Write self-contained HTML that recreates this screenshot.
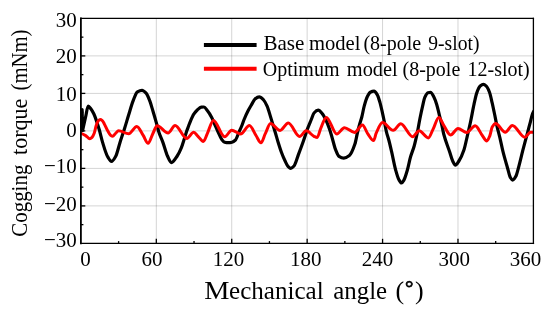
<!DOCTYPE html>
<html><head><meta charset="utf-8"><title>Cogging torque</title>
<style>html,body{margin:0;padding:0;background:#fff;width:550px;height:316px;overflow:hidden}svg{display:block}</style>
</head><body>
<svg width="550" height="316" viewBox="0 0 550 316" font-family="'Liberation Serif', 'Times New Roman', serif" fill="#000"><g stroke="#000" stroke-opacity="0.17" stroke-width="1"><line x1="156.32" y1="18.40" x2="156.32" y2="243.40"/><line x1="231.73" y1="18.40" x2="231.73" y2="243.40"/><line x1="307.15" y1="18.40" x2="307.15" y2="243.40"/><line x1="382.57" y1="18.40" x2="382.57" y2="243.40"/><line x1="457.98" y1="18.40" x2="457.98" y2="243.40"/><line x1="80.90" y1="205.90" x2="533.40" y2="205.90"/><line x1="80.90" y1="168.40" x2="533.40" y2="168.40"/><line x1="80.90" y1="130.90" x2="533.40" y2="130.90"/><line x1="80.90" y1="93.40" x2="533.40" y2="93.40"/><line x1="80.90" y1="55.90" x2="533.40" y2="55.90"/></g>
<defs><clipPath id="pc"><rect x="80.90" y="18.40" width="452.50" height="225.00"/></clipPath></defs>
<path d="M82.1,109.5 L82.6,130.5 C83.60,125.81 84.60,121.32 85.60,117.00 C86.47,113.26 87.33,106.20 88.20,106.20 C89.13,106.20 90.07,107.82 91.00,109.00 C91.97,110.22 92.93,111.97 93.90,114.00 C94.77,115.82 95.63,118.39 96.50,120.90 C97.50,123.80 98.50,127.01 99.50,130.50 C100.53,134.10 101.57,139.01 102.60,142.40 C104.37,148.19 106.13,154.37 107.90,157.20 C109.10,159.12 110.30,161.40 111.50,161.40 C112.90,161.40 114.30,158.77 115.70,156.30 C117.13,153.77 118.57,146.90 120.00,142.40 C121.47,137.80 122.93,133.65 124.40,129.00 C125.83,124.46 127.27,119.43 128.70,114.80 C130.17,110.06 131.63,104.61 133.10,100.90 C134.53,97.27 135.97,92.62 137.40,91.80 C138.93,90.93 140.47,90.30 142.00,90.30 C143.43,90.30 144.87,91.76 146.30,93.30 C147.47,94.55 148.63,97.85 149.80,100.90 C150.87,103.69 151.93,107.74 153.00,111.30 C154.10,114.97 155.20,118.69 156.30,122.60 C157.17,125.68 158.03,129.55 158.90,132.20 C160.23,136.27 161.57,138.76 162.90,142.40 C164.47,146.68 166.03,153.00 167.60,156.30 C168.87,158.96 170.13,162.60 171.40,162.60 C173.33,162.60 175.27,158.85 177.20,156.00 C178.60,153.94 180.00,151.01 181.40,147.60 C182.33,145.33 183.27,142.11 184.20,139.20 C185.07,136.50 185.93,133.32 186.80,130.80 C187.40,129.06 188.00,127.58 188.60,126.00 C189.20,124.42 189.80,122.71 190.40,121.30 C191.53,118.64 192.67,115.93 193.80,114.20 C194.97,112.42 196.13,111.04 197.30,110.00 C198.63,108.81 199.97,107.37 201.30,107.20 C202.20,107.09 203.10,107.00 204.00,107.00 C205.10,107.00 206.20,109.12 207.30,110.50 C208.77,112.34 210.23,114.63 211.70,117.40 C212.83,119.54 213.97,122.71 215.10,125.30 C216.03,127.43 216.97,129.60 217.90,131.60 C219.20,134.38 220.50,137.83 221.80,139.50 C222.73,140.70 223.67,141.98 224.60,142.20 C225.90,142.51 227.20,142.70 228.50,142.70 C229.67,142.70 230.83,142.47 232.00,142.20 C233.07,141.95 234.13,141.27 235.20,140.30 C236.53,139.08 237.87,134.57 239.20,131.60 C240.17,129.45 241.13,127.44 242.10,125.00 C242.70,123.49 243.30,121.50 243.90,120.00 C245.33,116.42 246.77,113.28 248.20,110.50 C249.37,108.24 250.53,106.37 251.70,104.40 C252.80,102.54 253.90,99.86 255.00,99.00 C256.40,97.90 257.80,96.90 259.20,96.90 C260.67,96.90 262.13,98.50 263.60,100.00 C264.77,101.19 265.93,103.50 267.10,106.10 C268.23,108.63 269.37,112.95 270.50,116.60 C271.37,119.39 272.23,122.43 273.10,125.30 C273.80,127.62 274.50,129.85 275.20,132.20 C276.20,135.55 277.20,139.28 278.20,142.50 C279.30,146.04 280.40,149.57 281.50,152.50 C282.67,155.61 283.83,158.40 285.00,160.80 C286.00,162.86 287.00,165.28 288.00,166.30 C288.93,167.25 289.87,168.30 290.80,168.30 C291.87,168.30 292.93,167.17 294.00,166.00 C295.47,164.40 296.93,158.49 298.40,154.60 C300.10,150.09 301.80,145.55 303.50,140.70 C304.77,137.09 306.03,132.82 307.30,129.40 C308.57,125.98 309.83,123.09 311.10,120.00 C312.07,117.64 313.03,114.05 314.00,113.00 C315.40,111.48 316.80,110.20 318.20,110.20 C319.60,110.20 321.00,112.25 322.40,113.90 C323.57,115.28 324.73,117.61 325.90,120.00 C327.07,122.39 328.23,125.38 329.40,128.70 C330.27,131.16 331.13,134.28 332.00,137.20 C333.17,141.13 334.33,146.46 335.50,149.40 C336.67,152.34 337.83,155.54 339.00,156.30 C340.60,157.35 342.20,158.10 343.80,158.10 C345.67,158.10 347.53,156.92 349.40,155.50 C351.23,154.11 353.07,149.52 354.90,144.10 C355.80,141.44 356.70,135.69 357.60,132.00 C358.30,129.13 359.00,126.49 359.70,124.00 C360.40,121.51 361.10,119.68 361.80,117.00 C362.60,113.93 363.40,109.02 364.20,106.10 C365.27,102.21 366.33,98.61 367.40,96.50 C368.37,94.59 369.33,92.65 370.30,92.20 C371.53,91.62 372.77,91.20 374.00,91.20 C375.10,91.20 376.20,93.03 377.30,94.80 C378.20,96.25 379.10,99.51 380.00,102.60 C380.83,105.46 381.67,109.39 382.50,113.10 C383.20,116.21 383.90,119.66 384.60,123.00 C385.23,126.03 385.87,129.66 386.50,132.20 C387.27,135.28 388.03,137.14 388.80,140.00 C389.73,143.48 390.67,147.66 391.60,151.70 C392.97,157.62 394.33,165.32 395.70,170.20 C396.73,173.89 397.77,177.65 398.80,179.50 C399.70,181.11 400.60,183.00 401.50,183.00 C402.30,183.00 403.10,181.43 403.90,180.10 C405.03,178.21 406.17,174.08 407.30,170.20 C408.37,166.55 409.43,160.70 410.50,157.00 C411.73,152.72 412.97,150.36 414.20,146.00 C415.27,142.23 416.33,137.31 417.40,132.20 C418.27,128.05 419.13,122.63 420.00,118.30 C420.87,113.97 421.73,109.81 422.60,106.10 C423.33,102.96 424.07,98.99 424.80,97.40 C425.87,95.08 426.93,93.10 428.00,92.80 C428.83,92.57 429.67,92.40 430.50,92.40 C431.70,92.40 432.90,95.16 434.10,97.40 C434.97,99.02 435.83,101.61 436.70,104.40 C437.57,107.19 438.43,111.32 439.30,114.80 C440.17,118.28 441.03,121.47 441.90,125.30 C442.50,127.95 443.10,131.68 443.70,134.00 C445.67,141.60 447.63,145.80 449.60,151.70 C450.63,154.80 451.67,158.93 452.70,161.00 C453.60,162.80 454.50,165.10 455.40,165.10 C456.57,165.10 457.73,162.75 458.90,161.00 C460.60,158.44 462.30,154.74 464.00,149.70 C465.00,146.74 466.00,141.55 467.00,137.30 C468.17,132.35 469.33,127.46 470.50,122.00 C471.67,116.54 472.83,109.71 474.00,104.40 C474.90,100.30 475.80,95.57 476.70,93.10 C477.87,89.89 479.03,87.07 480.20,86.10 C481.27,85.21 482.33,84.40 483.40,84.40 C484.37,84.40 485.33,85.24 486.30,86.10 C487.37,87.05 488.43,89.41 489.50,92.20 C490.37,94.47 491.23,98.86 492.10,102.60 C492.97,106.34 493.83,110.60 494.70,114.80 C495.40,118.19 496.10,122.17 496.80,125.30 C497.80,129.77 498.80,133.07 499.80,137.30 C500.87,141.81 501.93,147.41 503.00,151.70 C504.53,157.86 506.07,162.85 507.60,168.20 C508.50,171.34 509.40,175.89 510.30,177.40 C511.10,178.74 511.90,180.10 512.70,180.10 C513.73,180.10 514.77,178.21 515.80,176.40 C516.83,174.59 517.87,169.83 518.90,166.10 C520.27,161.16 521.63,154.99 523.00,149.70 C524.37,144.41 525.73,139.46 527.10,134.30 C528.20,130.15 529.30,125.96 530.40,121.80 C531.13,119.03 531.87,115.23 532.60,113.50 C533.07,112.40 533.53,111.47 534.00,111.00" fill="none" stroke="#000" stroke-width="3.2" stroke-linejoin="round" stroke-linecap="round" clip-path="url(#pc)"/>
<path d="M81.00,133.40 C82.57,133.87 84.13,134.68 85.70,135.60 C87.07,136.40 88.43,138.80 89.80,138.80 C90.53,138.80 91.27,138.10 92.00,137.40 C92.73,136.70 93.47,135.16 94.20,133.30 C94.87,131.61 95.53,127.40 96.20,125.50 C96.87,123.60 97.53,121.75 98.20,121.00 C98.87,120.25 99.53,119.50 100.20,119.50 C100.90,119.50 101.60,120.04 102.30,120.60 C102.93,121.11 103.57,122.57 104.20,123.70 C105.37,125.79 106.53,128.78 107.70,130.80 C108.73,132.59 109.77,134.82 110.80,135.50 C111.40,135.89 112.00,136.30 112.60,136.30 C113.57,136.30 114.53,134.40 115.50,133.50 C116.53,132.54 117.57,130.70 118.60,130.70 C121.97,130.70 125.33,133.80 128.70,133.80 C131.40,133.80 134.10,126.50 136.80,126.50 C138.93,126.50 141.07,132.20 143.20,135.40 C144.83,137.85 146.47,143.30 148.10,143.30 C149.67,143.30 151.23,136.75 152.80,133.70 C154.23,130.91 155.67,125.70 157.10,125.70 C160.77,125.70 164.43,133.00 168.10,133.00 C170.43,133.00 172.77,125.50 175.10,125.50 C179.00,125.50 182.90,138.40 186.80,138.40 C189.10,138.40 191.40,132.30 193.70,132.30 C195.13,132.30 196.57,134.93 198.00,136.30 C199.77,137.99 201.53,141.50 203.30,141.50 C204.63,141.50 205.97,136.43 207.30,133.70 C209.33,129.53 211.37,120.40 213.40,120.40 C217.17,120.40 220.93,136.80 224.70,136.80 C227.03,136.80 229.37,130.20 231.70,130.20 C234.63,130.20 237.57,134.00 240.50,134.00 C243.47,134.00 246.43,125.60 249.40,125.60 C251.60,125.60 253.80,132.25 256.00,135.50 C257.67,137.96 259.33,142.80 261.00,142.80 C262.43,142.80 263.87,136.62 265.30,133.70 C267.03,130.17 268.77,123.50 270.50,123.50 C273.70,123.50 276.90,130.40 280.10,130.40 C282.83,130.40 285.57,123.00 288.30,123.00 C292.07,123.00 295.83,136.50 299.60,136.50 C301.80,136.50 304.00,130.80 306.20,130.80 C308.80,130.80 311.40,135.08 314.00,136.30 C315.07,136.80 316.13,137.50 317.20,137.50 C318.37,137.50 319.53,131.14 320.70,128.50 C322.57,124.28 324.43,117.40 326.30,117.40 C329.80,117.40 333.30,134.00 336.80,134.00 C339.33,134.00 341.87,127.70 344.40,127.70 C347.80,127.70 351.20,132.50 354.60,132.50 C357.23,132.50 359.87,124.90 362.50,124.90 C364.23,124.90 365.97,131.29 367.70,133.70 C369.67,136.43 371.63,140.60 373.60,140.60 C374.47,140.60 375.33,135.10 376.20,133.20 C378.30,128.59 380.40,122.60 382.50,122.60 C386.07,122.60 389.63,130.30 393.20,130.30 C395.70,130.30 398.20,123.80 400.70,123.80 C404.70,123.80 408.70,136.70 412.70,136.70 C414.83,136.70 416.97,130.70 419.10,130.70 C422.17,130.70 425.23,137.90 428.30,137.90 C429.90,137.90 431.50,132.19 433.10,129.10 C435.00,125.43 436.90,117.40 438.80,117.40 C440.43,117.40 442.07,122.82 443.70,125.30 C445.97,128.74 448.23,135.00 450.50,135.00 C453.00,135.00 455.50,128.50 458.00,128.50 C460.90,128.50 463.80,132.50 466.70,132.50 C469.53,132.50 472.37,125.80 475.20,125.80 C477.57,125.80 479.93,132.46 482.30,135.50 C483.80,137.43 485.30,141.00 486.80,141.00 C487.80,141.00 488.80,138.18 489.80,135.80 C490.60,133.90 491.40,128.45 492.20,127.10 C493.33,125.18 494.47,123.50 495.60,123.50 C498.83,123.50 502.07,132.30 505.30,132.30 C507.63,132.30 509.97,125.50 512.30,125.50 C516.50,125.50 520.70,137.20 524.90,137.20 C526.77,137.20 528.63,132.20 530.50,132.20 C531.67,132.20 532.83,132.20 534.00,132.30" fill="none" stroke="#ff0000" stroke-width="3.0" stroke-linejoin="round" stroke-linecap="round" clip-path="url(#pc)"/>
<g stroke="#000" stroke-width="1.3"><line x1="80.90" y1="224.65" x2="83.40" y2="224.65"/><line x1="80.90" y1="205.90" x2="85.30" y2="205.90"/><line x1="80.90" y1="187.15" x2="83.40" y2="187.15"/><line x1="80.90" y1="168.40" x2="85.30" y2="168.40"/><line x1="80.90" y1="149.65" x2="83.40" y2="149.65"/><line x1="80.90" y1="130.90" x2="85.30" y2="130.90"/><line x1="80.90" y1="112.15" x2="83.40" y2="112.15"/><line x1="80.90" y1="93.40" x2="85.30" y2="93.40"/><line x1="80.90" y1="74.65" x2="83.40" y2="74.65"/><line x1="80.90" y1="55.90" x2="85.30" y2="55.90"/><line x1="80.90" y1="37.15" x2="83.40" y2="37.15"/><line x1="118.61" y1="243.40" x2="118.61" y2="241.10"/><line x1="156.32" y1="243.40" x2="156.32" y2="238.80"/><line x1="194.03" y1="243.40" x2="194.03" y2="241.10"/><line x1="231.73" y1="243.40" x2="231.73" y2="238.80"/><line x1="269.44" y1="243.40" x2="269.44" y2="241.10"/><line x1="307.15" y1="243.40" x2="307.15" y2="238.80"/><line x1="344.86" y1="243.40" x2="344.86" y2="241.10"/><line x1="382.57" y1="243.40" x2="382.57" y2="238.80"/><line x1="420.27" y1="243.40" x2="420.27" y2="241.10"/><line x1="457.98" y1="243.40" x2="457.98" y2="238.80"/><line x1="495.69" y1="243.40" x2="495.69" y2="241.10"/></g>
<g stroke="#000" stroke-linecap="square"><line x1="80.9" y1="18.4" x2="533.4" y2="18.4" stroke-width="1.3"/><line x1="80.9" y1="243.4" x2="533.4" y2="243.4" stroke-width="1.4"/><line x1="533.4" y1="18.4" x2="533.4" y2="243.4" stroke-width="1.3"/><line x1="80.9" y1="18.4" x2="80.9" y2="243.4" stroke-width="1.8"/></g>
<line x1="203.9" y1="45.0" x2="256.6" y2="45.0" stroke="#000" stroke-width="3.8"/>
<line x1="203.9" y1="68.8" x2="256.6" y2="68.8" stroke="#f00" stroke-width="3.9"/>
<text transform="translate(263.4,49.5) scale(1.055,1)" font-size="20">Base</text>
<text transform="translate(308.9,49.5) scale(1.03,1)" font-size="20">model</text>
<text x="363.4" y="49.5" font-size="20">(8-pole</text>
<text transform="translate(428.3,49.5) scale(0.98,1)" font-size="20">9-slot)</text>
<text x="262.8" y="75.6" font-size="20">Optimum</text>
<text transform="translate(346.8,75.6) scale(1.02,1)" font-size="20">model</text>
<text x="402.5" y="75.6" font-size="20">(8-pole</text>
<text x="467.5" y="75.6" font-size="20">12-slot)</text>
<text transform="translate(76.8,26.5) scale(0.955,1)" font-size="22" text-anchor="end">30</text>
<text transform="translate(76.8,63.1) scale(0.955,1)" font-size="22" text-anchor="end">20</text>
<text transform="translate(76.8,100.7) scale(0.955,1)" font-size="22" text-anchor="end">10</text>
<text transform="translate(76.8,137.0) scale(0.955,1)" font-size="22" text-anchor="end">0</text>
<text transform="translate(76.8,173.1) scale(0.955,1)" font-size="22" text-anchor="end">−10</text>
<text transform="translate(76.8,211.1) scale(0.955,1)" font-size="22" text-anchor="end">−20</text>
<text transform="translate(76.8,247.0) scale(0.955,1)" font-size="22" text-anchor="end">−30</text>
<text transform="translate(85.6,266.2) scale(0.955,1)" font-size="22" text-anchor="middle">0</text>
<text transform="translate(152,266.2) scale(0.955,1)" font-size="22" text-anchor="middle">60</text>
<text transform="translate(228.6,266.2) scale(0.955,1)" font-size="22" text-anchor="middle">120</text>
<text transform="translate(305.8,266.2) scale(0.955,1)" font-size="22" text-anchor="middle">180</text>
<text transform="translate(377.6,266.2) scale(0.955,1)" font-size="22" text-anchor="middle">240</text>
<text transform="translate(454.3,266.2) scale(0.955,1)" font-size="22" text-anchor="middle">300</text>
<text transform="translate(525.5,266.2) scale(0.955,1)" font-size="22" text-anchor="middle">360</text>
<text transform="translate(204.2,299.3) scale(1.09,1)" font-size="26">M</text>
<text transform="translate(229.1,299.3) scale(0.964,1)" font-size="26">echanical</text>
<text transform="translate(333.3,299.3) scale(0.957,1)" font-size="26">angle</text>
<text x="395.6" y="299.3" font-size="26">(</text>
<text x="405.0" y="294.6" font-size="21" stroke="#000" stroke-width="0.7">°</text>
<text x="415.1" y="299.3" font-size="26">)</text>
<text transform="translate(26.6,236.7) rotate(-90) scale(0.91,1)" font-size="23">Cogging</text>
<text transform="translate(26.6,155.0) rotate(-90) scale(0.96,1)" font-size="23">torque</text>
<text transform="translate(26.6,90.5) rotate(-90) scale(0.9,1)" font-size="23">(mNm)</text></svg>
</body></html>
